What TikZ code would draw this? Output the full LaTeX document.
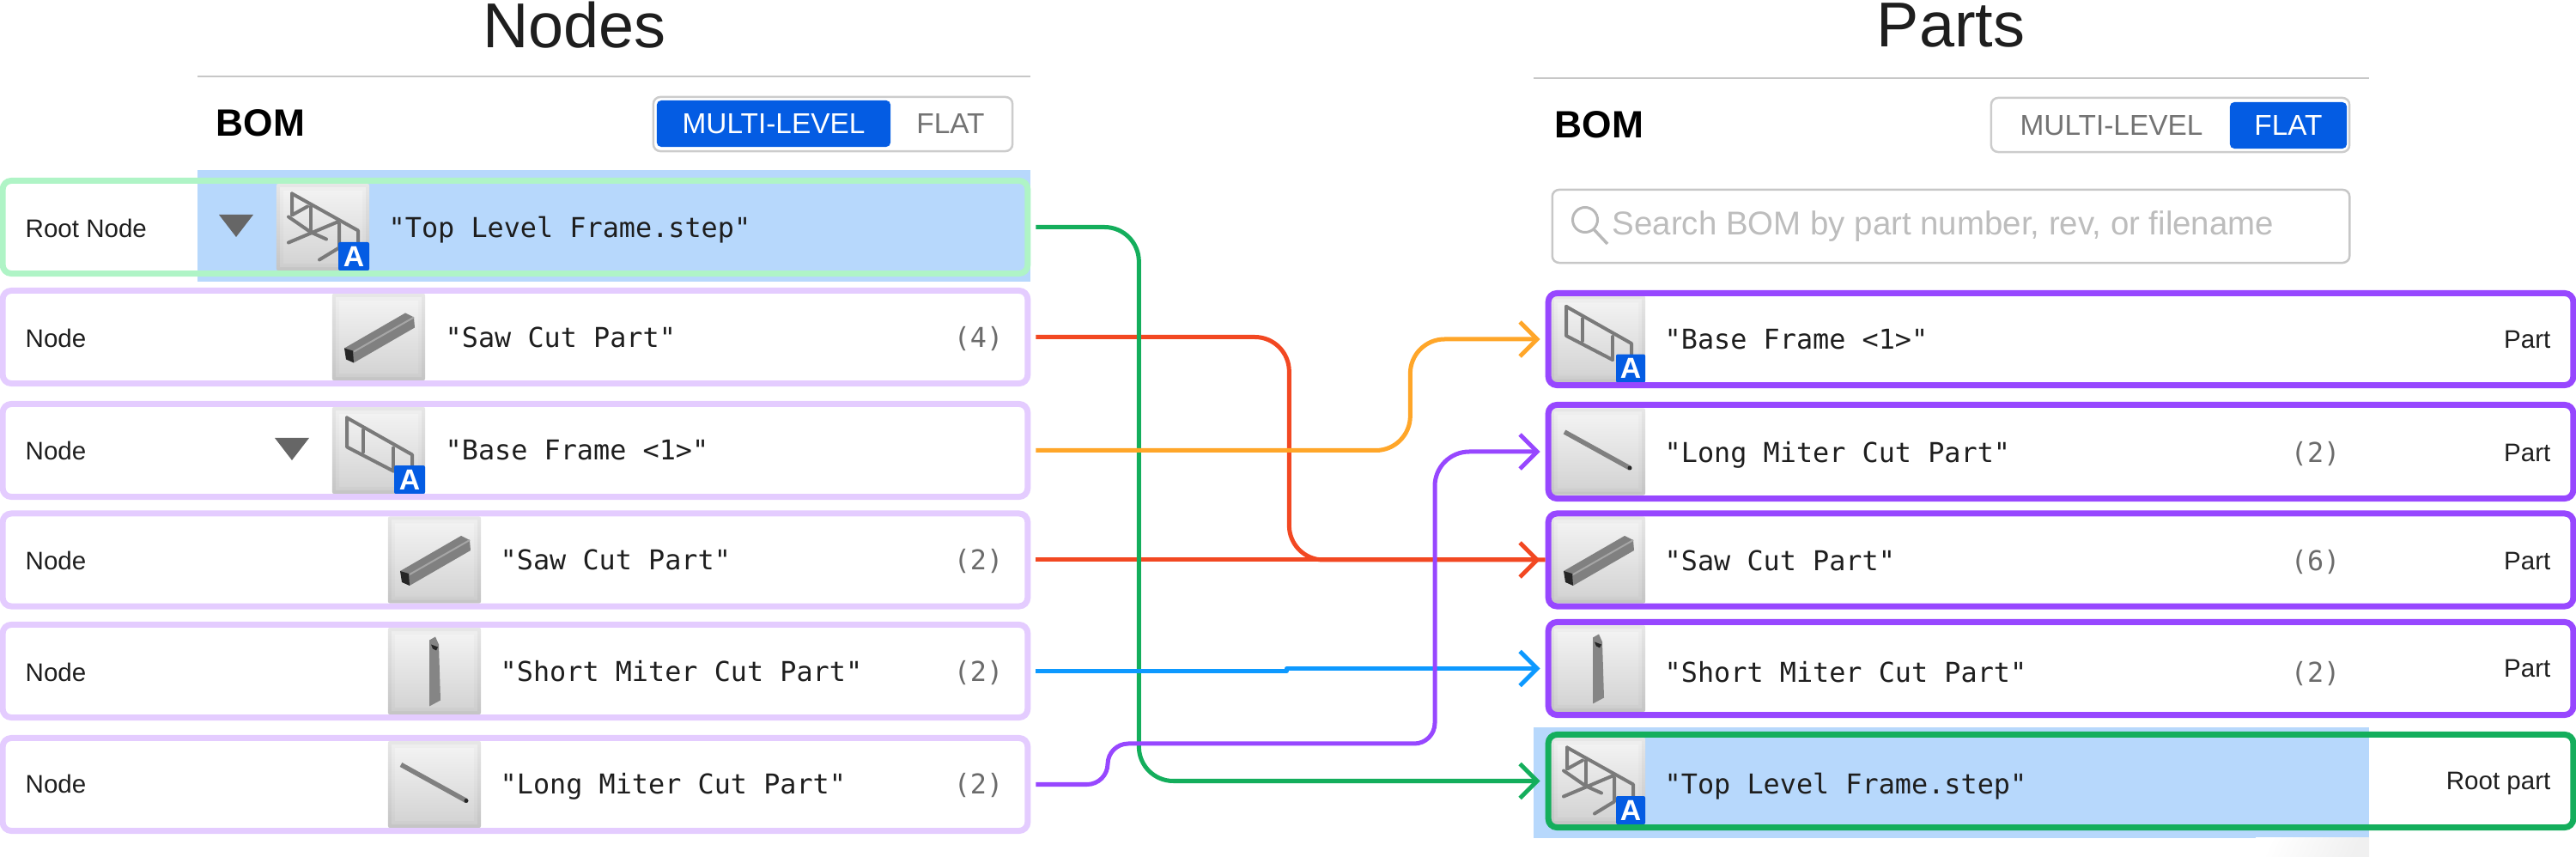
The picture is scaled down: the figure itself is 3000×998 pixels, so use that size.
\documentclass[tikz,border=0pt]{standalone}
\usepackage{fontspec}
\setmainfont{Liberation Sans}
\setmonofont{DejaVu Sans Mono}
\usetikzlibrary{arrows.meta,positioning,calc}
\definecolor{bandblue}{HTML}{B7D8FC}
\definecolor{btnblue}{HTML}{045CE3}
\definecolor{rootlight}{HTML}{AFF4C6}
\definecolor{nodelight}{HTML}{E4CCFF}
\definecolor{partdark}{HTML}{9747FF}
\definecolor{rootdark}{HTML}{14AE5C}
\definecolor{linkred}{HTML}{F24822}
\definecolor{linkorange}{HTML}{FFA629}
\definecolor{linkblue}{HTML}{0D99FF}
\definecolor{inktext}{HTML}{1E1E1E}
\tikzset{
	rowframe/.style={draw,rounded corners=0.1cm,line width=0.07cm,inner sep=0pt},
	noderow/.style={rowframe,nodelight,minimum width=11.93cm,minimum height=1.08cm},
	partrow/.style={rowframe,partdark,minimum width=11.93cm,minimum height=1.08cm},
	band/.style={fill=bandblue,inner sep=0pt,minimum height=1.29cm},
	thumbnail/.style={inner sep=0pt,rounded corners=0.02cm,top color=black!4,bottom color=black!18,minimum width=1.08cm,minimum height=1.01cm,
		path picture={
			\draw[black,opacity=0.02,line width=0.16cm] (path picture bounding box.south west) rectangle (path picture bounding box.north east);
			\draw[black,opacity=0.035,line width=0.08cm] (path picture bounding box.south west) rectangle (path picture bounding box.north east);
		}},
	badge/.style={fill=btnblue,text=white,rounded corners=0.02cm,inner sep=0pt,minimum width=0.36cm,minimum height=0.33cm,font=\fontsize{9.6}{10}\selectfont\bfseries},
	title/.style={inner sep=0pt,text=inktext,font=\fontsize{21}{24}\selectfont},
	bomlabel/.style={inner sep=0pt,anchor=west,font=\fontsize{12.6}{14}\selectfont\bfseries},
	kindlabel/.style={inner sep=0pt,text=inktext,font=\fontsize{8.4}{10}\selectfont},
	filename/.style={inner sep=0pt,anchor=west,text=inktext,text height=8.3pt,text depth=1.6pt,font=\ttfamily\fontsize{9.05}{11}\selectfont},
	qty/.style={inner sep=0pt,anchor=east,text=black!58,text height=8.3pt,text depth=1.6pt,font=\ttfamily\fontsize{9.05}{11}\selectfont},
	toggle/.style={draw=black!20,line width=0.025cm,rounded corners=0.08cm,inner sep=0pt,minimum height=0.63cm},
	toggleon/.style={fill=btnblue,rounded corners=0.05cm,inner sep=0pt,minimum height=0.54cm,text=white,font=\fontsize{9.5}{11}\selectfont},
	toggleoff/.style={inner sep=0pt,text=black!55,font=\fontsize{9.5}{11}\selectfont},
	triangle/.pic={\fill[black!60] (-20,-13) -- (20,-13) -- (0,13) -- cycle;},
	link/.style={line width=0.05cm,rounded corners=0.4cm,shorten <=0.06cm},
	linkto/.style={link,-{Straight Barb[length=0.2cm,width=0.4cm]},shorten >=0.06cm},
	bar/.style={draw=black!52,line width=0.04cm,line cap=round,line join=round},
	pics/topframe/.style={code={
		\draw[bar] (-36,-39) -- (41,4) -- (41,19);
		\draw[bar] (-36,-39) -- (-36,-14) -- (-18,-24);
		\draw[bar] (-40,-12) -- (-14,6) -- (4,14);
		\draw[bar] (-40,18) -- (17,-6);
		\draw[bar] (-4,38) -- (19,24) -- (19,-4);
		\draw[bar] (-14,-24) -- (-14,6);
	}},
	pics/baseframe/.style={code={
		\draw[bar] (-37,-38) -- (39,5) -- (39,19);
		\draw[bar] (-37,-38) -- (-37,-4) -- (17,24);
		\draw[bar] (-18,-24) -- (-18,2);
		\draw[bar] (17,-3) -- (17,24);
	}},
	pics/sawcut/.style={code={
		\fill[black!50] (-40,13) -- (-29,30) -- (42,-11) -- (41,-23) -- (31,-28) -- cycle;
		\draw[black!35,line width=0.02cm] (-29,17) -- (41,-23);
		\fill[black!85] (-40,13) -- (-30,16) -- (-29,30) -- (-38,26) -- cycle;
	}},
	pics/shortmiter/.style={code={
		\fill[black!48] (-6,-36) -- (1,-40) -- (5,-31) -- (7,34) -- (-6,41) -- cycle;
		\fill[black!85] (-4,-31) -- (4,-28) -- (2,-24) -- (-2,-26) -- cycle;
	}},
	pics/longmiter/.style={code={
		\draw[black!50,line width=0.055cm] (-39,-23) -- (37,19);
		\fill[black!85] (37,19) circle (2.5);
	}},
}
\begin{document}
\begin{tikzpicture}[x=0.01cm,y=-0.01cm]
	\useasboundingbox (0,0) rectangle (3000,998);
	% left panel
	\node[title] (nodestitle) at (669,29) {Nodes};
	\draw[black!22,line width=0.025cm] (230,89) -- (1200,89);
	\node[bomlabel] (bomleft) at (251,143) {BOM};
	\node[toggle,minimum width=4.18cm] (toggleleft) at (970,144.5) {};
	\node[toggleon,minimum width=2.72cm] (multileft) at (901,144) {MULTI-LEVEL};
	\node[toggleoff] (flatleft) at (1107,144) {FLAT};
	\node[band,minimum width=9.7cm] (bandroot) at (715,263) {};
	\pic at (275,263) {triangle};
	\pic at (340,523) {triangle};
	% thumbnails left
	\node[thumbnail] (thumbroot) at (376,264.5) {};
	\pic at (thumbroot) {topframe};
	\node[badge,anchor=south east] (badgeroot) at (thumbroot.south east) {A};
	\node[thumbnail] (thumbone) at (441,392.5) {};
	\pic at (thumbone) {sawcut};
	\node[thumbnail] (thumbtwo) at (441,524.5) {};
	\pic at (thumbtwo) {baseframe};
	\node[badge,anchor=south east] (badgetwo) at (thumbtwo.south east) {A};
	\node[thumbnail] (thumbthree) at (506,652) {};
	\pic at (thumbthree) {sawcut};
	\node[thumbnail] (thumbfour) at (506,781.5) {};
	\pic at (thumbfour) {shortmiter};
	\node[thumbnail] (thumbfive) at (506,913.5) {};
	\pic at (thumbfive) {longmiter};
	% rows left
	\node[rowframe,rootlight,minimum width=11.93cm,minimum height=1.08cm] (rootrow) at (600,264.5) {};
	\node[noderow] (rowone) at (600,392.5) {};
	\node[noderow] (rowtwo) at (600,524.5) {};
	\node[noderow] (rowthree) at (600,652) {};
	\node[noderow] (rowfour) at (600,781.5) {};
	\node[noderow] (rowfive) at (600,913.5) {};
	\node[kindlabel,anchor=west] (kindroot) at (29,266) {Root Node};
	\node[kindlabel,anchor=west] (kindone) at (29,394) {Node};
	\node[kindlabel,anchor=west] (kindtwo) at (29,525) {Node};
	\node[kindlabel,anchor=west] (kindthree) at (29,653) {Node};
	\node[kindlabel,anchor=west] (kindfour) at (29,783) {Node};
	\node[kindlabel,anchor=west] (kindfive) at (29,913) {Node};
	\node[filename] (nameroot) at (452,265) {"Top Level Frame.step"};
	\node[filename] (nameone) at (518,393) {"Saw Cut Part"};
	\node[filename] (nametwo) at (518,524) {"Base Frame <1>"};
	\node[filename] (namethree) at (582,652) {"Saw Cut Part"};
	\node[filename] (namefour) at (582,782) {"Short Miter Cut Part"};
	\node[filename] (namefive) at (582,913) {"Long Miter Cut Part"};
	\node[qty] (qtyone) at (1169,393) {(4)};
	\node[qty] (qtythree) at (1169,652) {(2)};
	\node[qty] (qtyfour) at (1169,782) {(2)};
	\node[qty] (qtyfive) at (1169,913) {(2)};
	% right panel
	\node[title] (partstitle) at (2272,29) {Parts};
	\draw[black!22,line width=0.025cm] (1786,91) -- (2759,91);
	\node[bomlabel] (bomright) at (1810,145) {BOM};
	\node[toggle,minimum width=4.17cm] (toggleright) at (2527.5,145.5) {};
	\node[toggleoff] (multiright) at (2459,146) {MULTI-LEVEL};
	\node[toggleon,minimum width=1.36cm] (flatright) at (2665,146) {FLAT};
	\node[draw=black!22,line width=0.025cm,rounded corners=0.08cm,inner sep=0pt,minimum width=9.28cm,minimum height=0.85cm] (searchbox) at (2272,263.5) {};
	\draw[black!28,line width=0.03cm] (1846,256) circle (14.5);
	\draw[black!28,line width=0.035cm] (1856,267) -- (1872,284);
	\node[inner sep=0pt,anchor=west,text=black!26,font=\fontsize{10.93}{12}\selectfont] (searchtext) at (1877,264) {Search BOM by part number, rev, or filename};
	\node[band,minimum width=9.73cm] (bandpart) at (2272.5,911.5) {};
	\fill[left color=white,right color=black!6,shading angle=65] (2627,976) rectangle (2759,998);
	% thumbnails right
	\node[thumbnail,minimum width=1.1cm] (thumba) at (1861,395) {};
	\pic at (thumba) {baseframe};
	\node[badge,anchor=south east,minimum width=0.34cm] (badgea) at (thumba.south east) {A};
	\node[thumbnail,minimum width=1.1cm] (thumbb) at (1861,526) {};
	\pic at (thumbb) {longmiter};
	\node[thumbnail,minimum width=1.1cm] (thumbc) at (1861,652) {};
	\pic at (thumbc) {sawcut};
	\node[thumbnail,minimum width=1.1cm] (thumbd) at (1861,778.5) {};
	\pic at (thumbd) {shortmiter};
	\node[thumbnail,minimum width=1.1cm] (thumbe) at (1861,909.5) {};
	\pic at (thumbe) {topframe};
	\node[badge,anchor=south east,minimum width=0.34cm] (badgee) at (thumbe.south east) {A};
	% rows right
	\node[partrow,minimum height=1.07cm] (parta) at (2400,395) {};
	\node[partrow,minimum height=1.09cm] (partb) at (2400,526) {};
	\node[partrow] (partc) at (2400,652) {};
	\node[partrow] (partd) at (2400,778.5) {};
	\node[rowframe,rootdark,minimum width=11.93cm,minimum height=1.08cm] (parte) at (2400,909.5) {};
	\node[filename] (namea) at (1938,395) {"Base Frame <1>"};
	\node[filename] (nameb) at (1938,527) {"Long Miter Cut Part"};
	\node[filename] (namec) at (1938,653) {"Saw Cut Part"};
	\node[filename] (named) at (1938,783) {"Short Miter Cut Part"};
	\node[filename] (namee) at (1938,913) {"Top Level Frame.step"};
	\node[qty] (qtyb) at (2726,527) {(2)};
	\node[qty] (qtyc) at (2726,653) {(6)};
	\node[qty] (qtyd) at (2726,783) {(2)};
	\node[kindlabel,anchor=east] (kinda) at (2971,395) {Part};
	\node[kindlabel,anchor=east] (kindb) at (2971,527) {Part};
	\node[kindlabel,anchor=east] (kindc) at (2971,653) {Part};
	\node[kindlabel,anchor=east] (kindd) at (2971,778) {Part};
	\node[kindlabel,anchor=east] (kinde) at (2971,912) {Root part};
	% links
	\coordinate (purplea) at (1290,866);
	\coordinate (purpleb) at (1671,866);
	\draw[link,linkred] (rowone.east) -- ++(301,0) |- (partc.west);
	\draw[linkto,linkred] (rowthree.east) -- (partc.west);
	\draw[linkto,rootdark] (rootrow.east) -- ++(126,0) |- (parte.west);
	\draw[linkto,linkorange] (rowtwo.east) -- ++(442,0) |- (parta.west);
	\draw[linkto,linkblue,sharp corners,line join=round] (rowfour.east) -- ++(298,0) -- ++(0,-3) -- (partd.west);
	\draw[linkto,partdark,rounded corners=0.24cm] (rowfive.east) -| (purplea) -- (purpleb) [rounded corners=0.4cm] |- (partb.west);
\end{tikzpicture}
\end{document}
